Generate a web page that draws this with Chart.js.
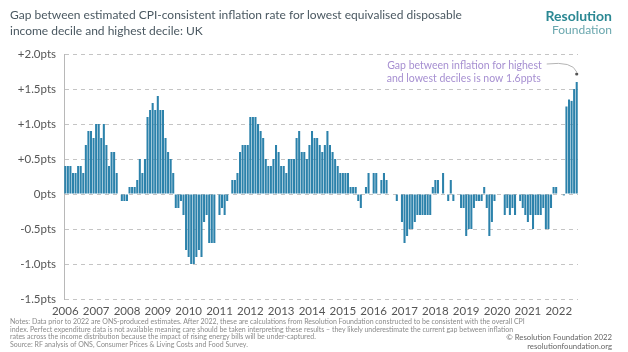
<!DOCTYPE html>
<html>
<head>
<meta charset="utf-8">
<script src="https://cdn.jsdelivr.net/npm/chart.js@4.4.0/dist/chart.umd.min.js"></script>
<style>
  body { margin: 0; width: 628px; height: 352px; overflow: hidden; background: #fff; position: relative; font-family: Lato, "Open Sans", sans-serif; }
  #wrap { position: absolute; left: 0; top: 0; width: 628px; height: 352px; }
  #title { position: absolute; left: 10px; top: 7px; font-size: 12px; line-height: 16px; color: #4a5861; z-index: 2; white-space: nowrap; }
  #logo { position: absolute; right: 16px; top: 8px; text-align: right; z-index: 2; }
  #logo .a { font-size: 14px; font-weight: 700; color: #2b8893; line-height: 15px; }
  #logo .b { font-size: 12px; color: #6aa7ae; line-height: 13px; }
  #notes { position: absolute; left: 10px; top: 318px; font-size: 7px; line-height: 7.6px; color: #8a8a8a; z-index: 2; white-space: nowrap; }
  #credit { position: absolute; right: 16px; top: 333px; text-align: right; font-size: 7.8px; line-height: 8.6px; color: #666; z-index: 3; white-space: nowrap; }
</style>
</head>
<body>
<div id="title">Gap between estimated CPI-consistent inflation rate for lowest equivalised disposable<br>income decile and highest decile: UK</div>
<div id="logo"><div class="a">Resolution</div><div class="b">Foundation</div></div>
<div id="wrap"><canvas id="gapChart" width="628" height="352"></canvas></div>
<div id="notes">Notes: Data prior to 2022 are ONS-produced estimates. After 2022, these are calculations from Resolution Foundation constructed to be consistent with the overall CPI<br>index. Perfect expenditure data is not available meaning care should be taken interpreting these results – they likely underestimate the current gap between inflation<br>rates across the income distribution because the impact of rising energy bills will be under-captured.<br>Source: RF analysis of ONS, Consumer Prices &amp; Living Costs and Food Survey.</div>
<div id="credit">© Resolution Foundation 2022<br>resolutionfoundation.org</div>
<script>
// Écart mensuel (points de %), de janvier 2006 à août 2022
const years = ['2006', '2007', '2008', '2009', '2010', '2011', '2012', '2013', '2014', '2015', '2016', '2017', '2018', '2019', '2020', '2021', '2022'];
const gap2006 = [0.4, 0.4, 0.4, 0.3, 0.3, 0.4, 0.4, 0.3, 0.7, 0.9, 0.9, 0.8];
const gap2007 = [1.0, 1.0, 0.8, 1.0, 0.7, 0.4, 0.6, 0.6, 0.3, 0, -0.1, -0.1];
const gap2008 = [-0.1, 0.1, 0.1, 0.1, 0.2, 0.5, 0.3, 0.5, 1.1, 1.2, 1.3, 1.2];
const gap2009 = [1.4, 1.2, 1.2, 0.8, 0.6, 0.5, 0.3, -0.2, -0.2, -0.1, -0.3, -0.8];
const gap2010 = [-0.9, -1.0, -1.0, -0.9, -0.8, -0.9, -0.4, -0.3, -0.7, -0.7, -0.7, 0];
const gap2011 = [-0.3, -0.2, -0.3, -0.1, 0, 0.2, 0.2, 0.3, 0.6, 0.7, 0.7, 0.7];
const gap2012 = [1.1, 1.1, 1.1, 1.0, 0.9, 0.8, 0.5, 0.4, 0.4, 0.5, 0.7, 0.6];
const gap2013 = [0.4, 0.4, 0.3, 0.5, 0.5, 0.5, 0.8, 0.9, 0.6, 0.6, 0.5, 0.7];
const gap2014 = [0.9, 0.8, 0.8, 0.7, 0.6, 0.7, 0.9, 0.7, 0.6, 0.5, 0.4, 0.3];
const gap2015 = [0.3, 0.3, 0.3, 0.1, 0.1, 0.1, -0.1, -0.2, 0, 0.1, 0.3, 0];
const gap2016 = [0.3, 0.3, 0, 0.2, 0.3, 0.2, 0, 0, 0, -0.1, 0, -0.4];
const gap2017 = [-0.7, -0.6, -0.5, -0.5, -0.4, -0.3, -0.3, -0.3, -0.3, -0.3, -0.3, 0.1];
const gap2018 = [0.2, 0.2, 0, 0.3, 0, -0.1, 0.2, -0.1, 0, 0, -0.2, -0.2];
const gap2019 = [-0.6, -0.5, -0.5, -0.2, -0.1, -0.1, -0.1, 0.1, -0.2, -0.6, -0.4, -0.1];
const gap2020 = [0, 0, 0, -0.3, -0.2, -0.3, -0.2, -0.3, 0, -0.1, -0.2, -0.3];
const gap2021 = [-0.4, -0.3, -0.5, -0.3, -0.3, -0.3, -0.2, -0.5, -0.5, -0.2, 0.1, 0.1];
const gap2022 = [0, 0, -0.02, 1.25, 1.35, 1.33, 1.5, 1.6];
const yTicks = [-1.5, -1.0, -0.5, 0, 0.5, 1.0, 1.5, 2.0];
const noteLines = ['Gap between inflation for highest', 'and lowest deciles is now 1.6ppts'];

const values = [].concat(gap2006, gap2007, gap2008, gap2009, gap2010, gap2011, gap2012, gap2013,
    gap2014, gap2015, gap2016, gap2017, gap2018, gap2019, gap2020, gap2021, gap2022);
const labels = values.map((v, i) => years[Math.floor(i / 12)] + '-' + String(i % 12 + 1).padStart(2, '0'));

// Annotation : texte violet, courbe et point au-dessus de la dernière barre
const annotate = {
    id: 'annotate',
    afterDatasetsDraw(chart) {
        const { ctx, scales: { x, y } } = chart;
        const last = values.length - 1;
        const px = x.getPixelForValue(last);
        const py = y.getPixelForValue(values[last]) - 8;
        ctx.save();
        ctx.strokeStyle = '#b4b4b4';
        ctx.lineWidth = 1;
        ctx.beginPath();
        ctx.moveTo(px - 30, py - 10);
        ctx.quadraticCurveTo(px - 4, py - 13, px, py - 2);
        ctx.stroke();
        ctx.fillStyle = '#555';
        ctx.beginPath();
        ctx.arc(px, py, 1.6, 0, Math.PI * 2);
        ctx.fill();
        ctx.fillStyle = '#a68fd1';
        ctx.font = '10.5px Lato, "Open Sans", sans-serif';
        ctx.textAlign = 'right';
        ctx.textBaseline = 'middle';
        ctx.fillText(noteLines[0], px - 35, y.getPixelForValue(1.83));
        ctx.fillText(noteLines[1], px - 36, y.getPixelForValue(1.645));
        ctx.restore();
    }
};

new Chart(document.getElementById('gapChart').getContext('2d'), {
    type: 'bar',
    data: {
        labels: labels,
        datasets: [{
            data: values,
            backgroundColor: '#2c82ab',
            borderWidth: 0,
            barPercentage: 0.8,
            categoryPercentage: 1
        }]
    },
    options: {
        responsive: false,
        animation: false,
        layout: { padding: { top: 54, right: 50, bottom: 31, left: 0 } },
        plugins: { legend: { display: false }, tooltip: { enabled: false } },
        scales: {
            x: {
                grid: { display: false, drawTicks: false },
                border: { display: false },
                ticks: {
                    autoSkip: false,
                    maxRotation: 0,
                    padding: 5,
                    color: '#555',
                    font: { size: 11.5, family: 'Lato, "Open Sans", sans-serif' },
                    callback: (v, i) => (i % 12 === 0 ? years[i / 12] : null)
                },
                afterFit: s => { s.height = 22; }
            },
            y: {
                min: -1.5,
                max: 2.0,
                afterBuildTicks: s => { s.ticks = yTicks.map(v => ({ value: v })); },
                grid: { color: '#c4c4c4', drawTicks: false },
                border: { display: true, color: '#b8b8b8', dash: [4, 4] },
                ticks: {
                    padding: 8,
                    color: '#555',
                    font: { size: 11.5, family: 'Lato, "Open Sans", sans-serif' },
                    callback: v => (v === 0 ? '0pts' : (v > 0 ? '+' : '') + v.toFixed(1) + 'pts')
                },
                afterFit: s => { s.width = 64; }
            }
        }
    },
    plugins: [annotate]
});
</script>
</body>
</html>
